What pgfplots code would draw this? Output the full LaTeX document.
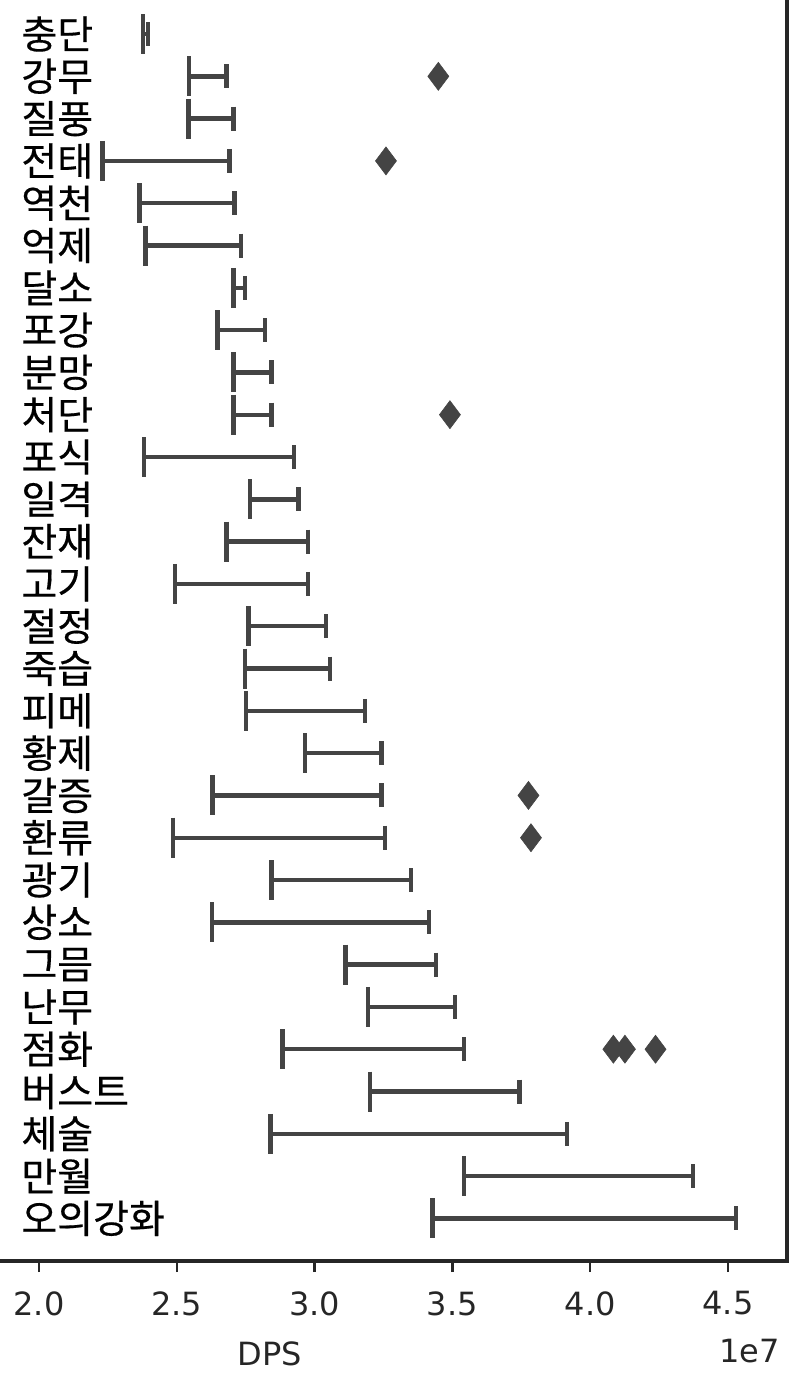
\documentclass[border=0pt]{standalone}
\usepackage{fontspec}
\usepackage{pgfplots}
\usepackage{pgfplotstable}
\pgfplotsset{compat=1.18}
\setmainfont{DejaVu Sans}
\newfontfamily\kr[FakeBold=0.4]{Noto Sans CJK KR}
\definecolor{whisk}{HTML}{444444}
\definecolor{spine}{HTML}{262626}

% whisker ends per skill (DPS, units of 1e7), k = row from top
\pgfplotstableread{
k lo hi
0 2.378 2.395
1 2.544 2.681
2 2.542 2.705
3 2.231 2.691
4 2.364 2.709
5 2.387 2.733
6 2.705 2.747
7 2.648 2.820
8 2.705 2.844
9 2.705 2.844
10 2.382 2.925
11 2.766 2.941
12 2.681 2.977
13 2.493 2.977
14 2.760 3.041
15 2.747 3.056
16 2.750 3.183
17 2.965 3.243
18 2.630 3.243
19 2.487 3.255
20 2.844 3.349
21 2.627 3.416
22 3.112 3.441
23 3.194 3.510
24 2.883 3.542
25 3.202 3.744
26 2.840 3.916
27 3.542 4.374
28 3.428 4.530
}\dps

\begin{document}
\begin{tikzpicture}
\useasboundingbox (0pt,-58pt) rectangle (400pt,630.5pt);
\begin{axis}[
  name=ax,
  scale only axis, width=393.5pt, height=630.5pt,
  xmin=1.8585, xmax=4.714,
  ymin=-0.804, ymax=29.007, y dir=reverse,
  axis line style={draw=none},
  xtick={2,2.5,3,3.5,4,4.5},
  xtick pos=bottom,
  tick align=outside,
  major tick length=5.5pt,
  xtick style={line width=1.2pt, color=spine},
  xticklabel style={font=\fontsize{16pt}{16pt}\selectfont, text=spine,
    anchor=north, inner sep=0pt, yshift=-9.5pt,
    /pgf/number format/.cd, fixed, fixed zerofill, precision=1, assume math mode=true},
  scaled x ticks=false,
  ytick={0,...,28},
  yticklabels={충단,강무,질풍,전태,역천,억제,달소,포강,분망,처단,포식,일격,잔재,고기,절정,죽습,피메,황제,갈증,환류,광기,상소,그믐,난무,점화,버스트,체술,만월,오의강화},
  yticklabel style={font=\kr\fontsize{19.5pt}{19.5pt}\selectfont, text=black,
    anchor=west, inner sep=0pt, xshift=16pt},
  ytick style={draw=none},
  xlabel={DPS},
  xlabel style={font=\fontsize{16pt}{16pt}\selectfont, text=spine,
    at={(axis description cs:0.343,0)}, anchor=center, yshift=-46.5pt},
]
% whisker line from the collapsed box (tall bar) to the upper whisker
\addplot[whisk, only marks, mark=|, mark size=10pt, mark options={line width=2.2pt},
  error bars/.cd, x dir=plus, x explicit, error mark=none,
  error bar style={line width=2.2pt, whisk}]
  table[x=lo, y=k, x error expr=\thisrow{hi}-\thisrow{lo}] {\dps};
% caps
\addplot[whisk, only marks, mark=|, mark size=6pt, mark options={line width=2.2pt}]
  table[x=hi, y=k] {\dps};
% outliers
\addplot[only marks, mark=diamond*, mark size=7pt,
  mark options={fill=whisk, draw=whisk, line width=0.3pt}]
  coordinates {(3.449,1) (3.259,3) (3.491,9) (3.776,18) (3.785,19)
    (4.084,24) (4.126,24) (4.237,24)};
\end{axis}
\draw[spine, line width=1.6pt] (ax.south west) -- (ax.south east) -- ([yshift=2pt]ax.north east);
\node[font=\fontsize{16pt}{16pt}\selectfont, text=spine, anchor=east, inner sep=0pt,
  xshift=-3.5pt, yshift=-45pt] at (ax.south east) {1e7};
\end{tikzpicture}
\end{document}
